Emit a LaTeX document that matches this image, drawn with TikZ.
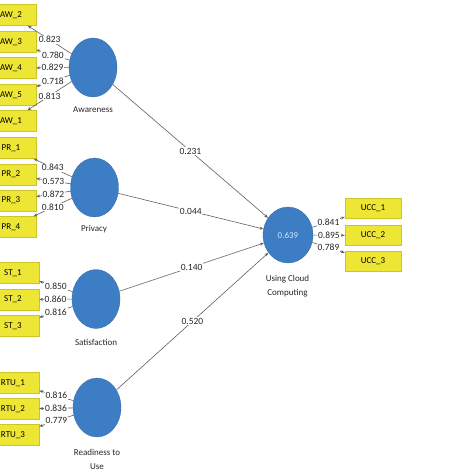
\documentclass[tikz,border=0pt]{standalone}
\usepackage{fontspec}
\setmainfont{Carlito}
\usetikzlibrary{shapes.geometric,arrows.meta}
\definecolor{plsblue}{RGB}{61,125,196}
\definecolor{plsyellow}{RGB}{238,230,52}
\definecolor{plsedge}{RGB}{205,196,40}
\definecolor{plsline}{RGB}{95,95,95}
\tikzset{
  latent/.style={ellipse, fill=plsblue, draw=plsblue!85!black, line width=0.3pt,
    minimum width=48, minimum height=59, inner sep=0pt, text=white!80!plsblue,
    font=\fontsize{9}{10}\selectfont},
  indicator/.style={rectangle, fill=plsyellow, draw=plsedge, line width=0.4pt,
    minimum width=52, minimum height=21, inner sep=0pt, font=\fontsize{9}{10}\selectfont},
  caption/.style={align=center, font=\fontsize{9}{14}\selectfont, text=black!85},
  coef/.style={fill=white, inner sep=0.8pt, font=\fontsize{9.5}{10}\selectfont, text=black!85},
  link/.style={draw=plsline, line width=0.6pt, -{Stealth[length=4pt,width=3pt]}},
}
\begin{document}
\begin{tikzpicture}[x=1pt, y=-1pt]
  \useasboundingbox (0,0) rectangle (474,474);
  \clip (0,0) rectangle (474,474);
  % latent variables
  \node[latent] (AW) at (93,67.5) {};
  \node[latent] (PR) at (94.5,187.5) {};
  \node[latent] (ST) at (96,299) {};
  \node[latent] (RTU) at (97,407.5) {};
  \node[latent, minimum width=50, minimum height=56] (UCC) at (288,235) {0.639};
  \node[caption] (AWcap) at (93,110) {Awareness};
  \node[caption] (PRcap) at (94,229) {Privacy};
  \node[caption] (STcap) at (96,342) {Satisfaction};
  \node[caption] (RTUcap) at (97,459) {Readiness to\\Use};
  \node[caption] (UCCcap) at (287.5,286) {Using Cloud\\Computing};
  % indicators
  \node[indicator, minimum width=50] (AW2) at (11,15) {AW\_2};
  \node[indicator, minimum width=50] (AW3) at (11,42) {AW\_3};
  \node[indicator, minimum width=50] (AW4) at (11,68) {AW\_4};
  \node[indicator, minimum width=50] (AW5) at (11,95) {AW\_5};
  \node[indicator, minimum width=50] (AW1) at (11,121) {AW\_1};
  \node[indicator, minimum width=50] (PR1) at (11,148) {PR\_1};
  \node[indicator, minimum width=50] (PR2) at (11,174.5) {PR\_2};
  \node[indicator, minimum width=50] (PR3) at (11,200.5) {PR\_3};
  \node[indicator, minimum width=50] (PR4) at (11,227) {PR\_4};
  \node[indicator] (ST1) at (13,273) {ST\_1};
  \node[indicator] (ST2) at (13,299.5) {ST\_2};
  \node[indicator] (ST3) at (13,326) {ST\_3};
  \node[indicator] (RTU1) at (13,383) {RTU\_1};
  \node[indicator] (RTU2) at (13,409) {RTU\_2};
  \node[indicator] (RTU3) at (13,435) {RTU\_3};
  \node[indicator, minimum width=56, minimum height=20] (UCC1) at (373,208) {UCC\_1};
  \node[indicator, minimum width=56, minimum height=20] (UCC2) at (373,235.5) {UCC\_2};
  \node[indicator, minimum width=56, minimum height=20] (UCC3) at (373,261.5) {UCC\_3};
  % outer loadings
  \draw[link] (AW) -- node[coef] {0.823} (AW2);
  \draw[link] (AW) -- node[coef] {0.780} (AW3);
  \draw[link] (AW) -- node[coef] {0.829} (AW4);
  \draw[link] (AW) -- node[coef] {0.718} (AW5);
  \draw[link] (AW) -- node[coef] {0.813} (AW1);
  \draw[link] (PR) -- node[coef] {0.843} (PR1);
  \draw[link] (PR) -- node[coef] {0.573} (PR2);
  \draw[link] (PR) -- node[coef] {0.872} (PR3);
  \draw[link] (PR) -- node[coef] {0.810} (PR4);
  \draw[link] (ST) -- node[coef] {0.850} (ST1);
  \draw[link] (ST) -- node[coef] {0.860} (ST2);
  \draw[link] (ST) -- node[coef] {0.816} (ST3);
  \draw[link] (RTU) -- node[coef] {0.816} (RTU1);
  \draw[link] (RTU) -- node[coef] {0.836} (RTU2);
  \draw[link] (RTU) -- node[coef] {0.779} (RTU3);
  \draw[link] (UCC) -- node[coef] {0.841} (UCC1);
  \draw[link] (UCC) -- node[coef] {0.895} (UCC2);
  \draw[link] (UCC) -- node[coef] {0.789} (UCC3);
  % path coefficients
  \draw[link] (AW) -- node[coef] {0.231} (UCC);
  \draw[link] (PR) -- node[coef] {0.044} (UCC);
  \draw[link] (ST) -- node[coef] {0.140} (UCC);
  \draw[link] (RTU) -- node[coef] {0.520} (UCC);
\end{tikzpicture}
\end{document}
